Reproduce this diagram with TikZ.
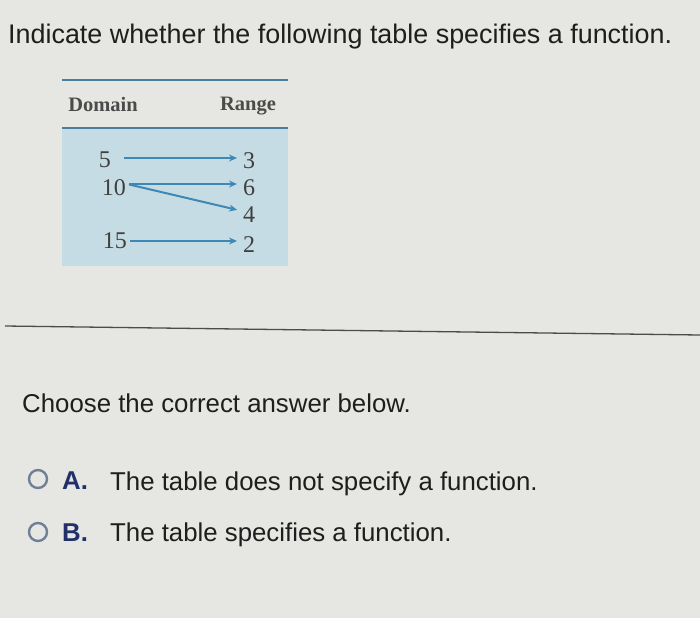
\documentclass[tikz,border=0pt]{standalone}
\usepackage{fontspec}
\setmainfont{Liberation Sans}
\newfontfamily\serif{Liberation Serif}
\usetikzlibrary{arrows.meta,calc}
\definecolor{bg}{HTML}{E6E6E2}
\definecolor{tbl}{HTML}{C6DCE4}
\definecolor{arr}{HTML}{3E88B6}
\definecolor{rule}{HTML}{4A7E9E}
\definecolor{radio}{HTML}{6F7F96}
\definecolor{lbl}{HTML}{22306A}
\definecolor{txt}{HTML}{1E1E1E}
\tikzset{
  title/.style={anchor=west, inner sep=0pt, font=\fontsize{26.9}{30}\selectfont, text=txt},
  body/.style={anchor=west, inner sep=0pt, font=\fontsize{25.8}{30}\selectfont, text=txt},
  hdr/.style={inner sep=0pt, font=\serif\bfseries\fontsize{20.5}{24}\selectfont, text=txt!80},
  num/.style={inner sep=1pt, font=\serif\fontsize{24}{26}\selectfont, text=txt!85},
  map/.style={draw=arr, line width=2pt, -{Stealth[length=8pt,width=7pt]}, shorten <=2pt, shorten >=5pt},
  radiobtn/.style={circle, draw=radio, line width=2.4pt, minimum size=18pt, inner sep=0pt},
  optlbl/.style={anchor=west, inner sep=0pt, font=\bfseries\fontsize{25.8}{30}\selectfont, text=lbl}
}
\begin{document}
\begin{tikzpicture}[x=1pt,y=-1pt]
\fill[bg] (0,0) rectangle (700,618);
\useasboundingbox (0,0) rectangle (700,618);
\node[title] (t) at (8,37) {Indicate whether the following table specifies a function.};
% table
\fill[tbl] (62,129) rectangle (288,266);
\draw[rule, line width=1.6pt] (62,80) -- (288,80);
\draw[rule, line width=1.6pt] (62,128) -- (288,128);
\node[hdr] (hd) at (103,104) {Domain};
\node[hdr] (hr) at (248,106) {Range};
\node[num, anchor=east] (d5) at (112,160) {5};
\node[num, anchor=east] (d10) at (127,188) {10};
\node[num, anchor=east] (d15) at (128,241) {15};
\node[num, anchor=west] (r3) at (242,161) {3};
\node[num, anchor=west] (r6) at (242,188) {6};
\node[num, anchor=west] (r4) at (242,215) {4};
\node[num, anchor=west] (r2) at (242,245) {2};
\coordinate (s5) at ($(d5.east)+(10,-2)$);
\coordinate (s10) at ($(d10.east)+(0,-4)$);
\coordinate (s15) at ($(d15.east)+(0,0)$);
\draw[map] (s5) -- (r3.west |- s5);
\draw[map] (s10) -- (r6.west |- s10);
\draw[map] (s10) -- ($(r4.west)+(0,-4)$);
\draw[map] (s15) -- (r2.west |- s15);
% separator
\coordinate (l1) at (5,326);
\coordinate (l2) at (700,335);
\draw[black!70, line width=1.3pt] (l1) -- (l2);
\node[body] (q) at (22,403) {Choose the correct answer below.};
\node[radiobtn] (ra) at (38,479) {};
\node[optlbl] (la) at (62,481) {A.};
\node[body] (ta) at (110,484) {The table does not specify a function.};
\node[radiobtn] (rb) at (38,532) {};
\node[optlbl] (lb) at (62,533) {B.};
\node[body] (tb) at (110,535) {The table specifies a function.};
\end{tikzpicture}
\end{document}
